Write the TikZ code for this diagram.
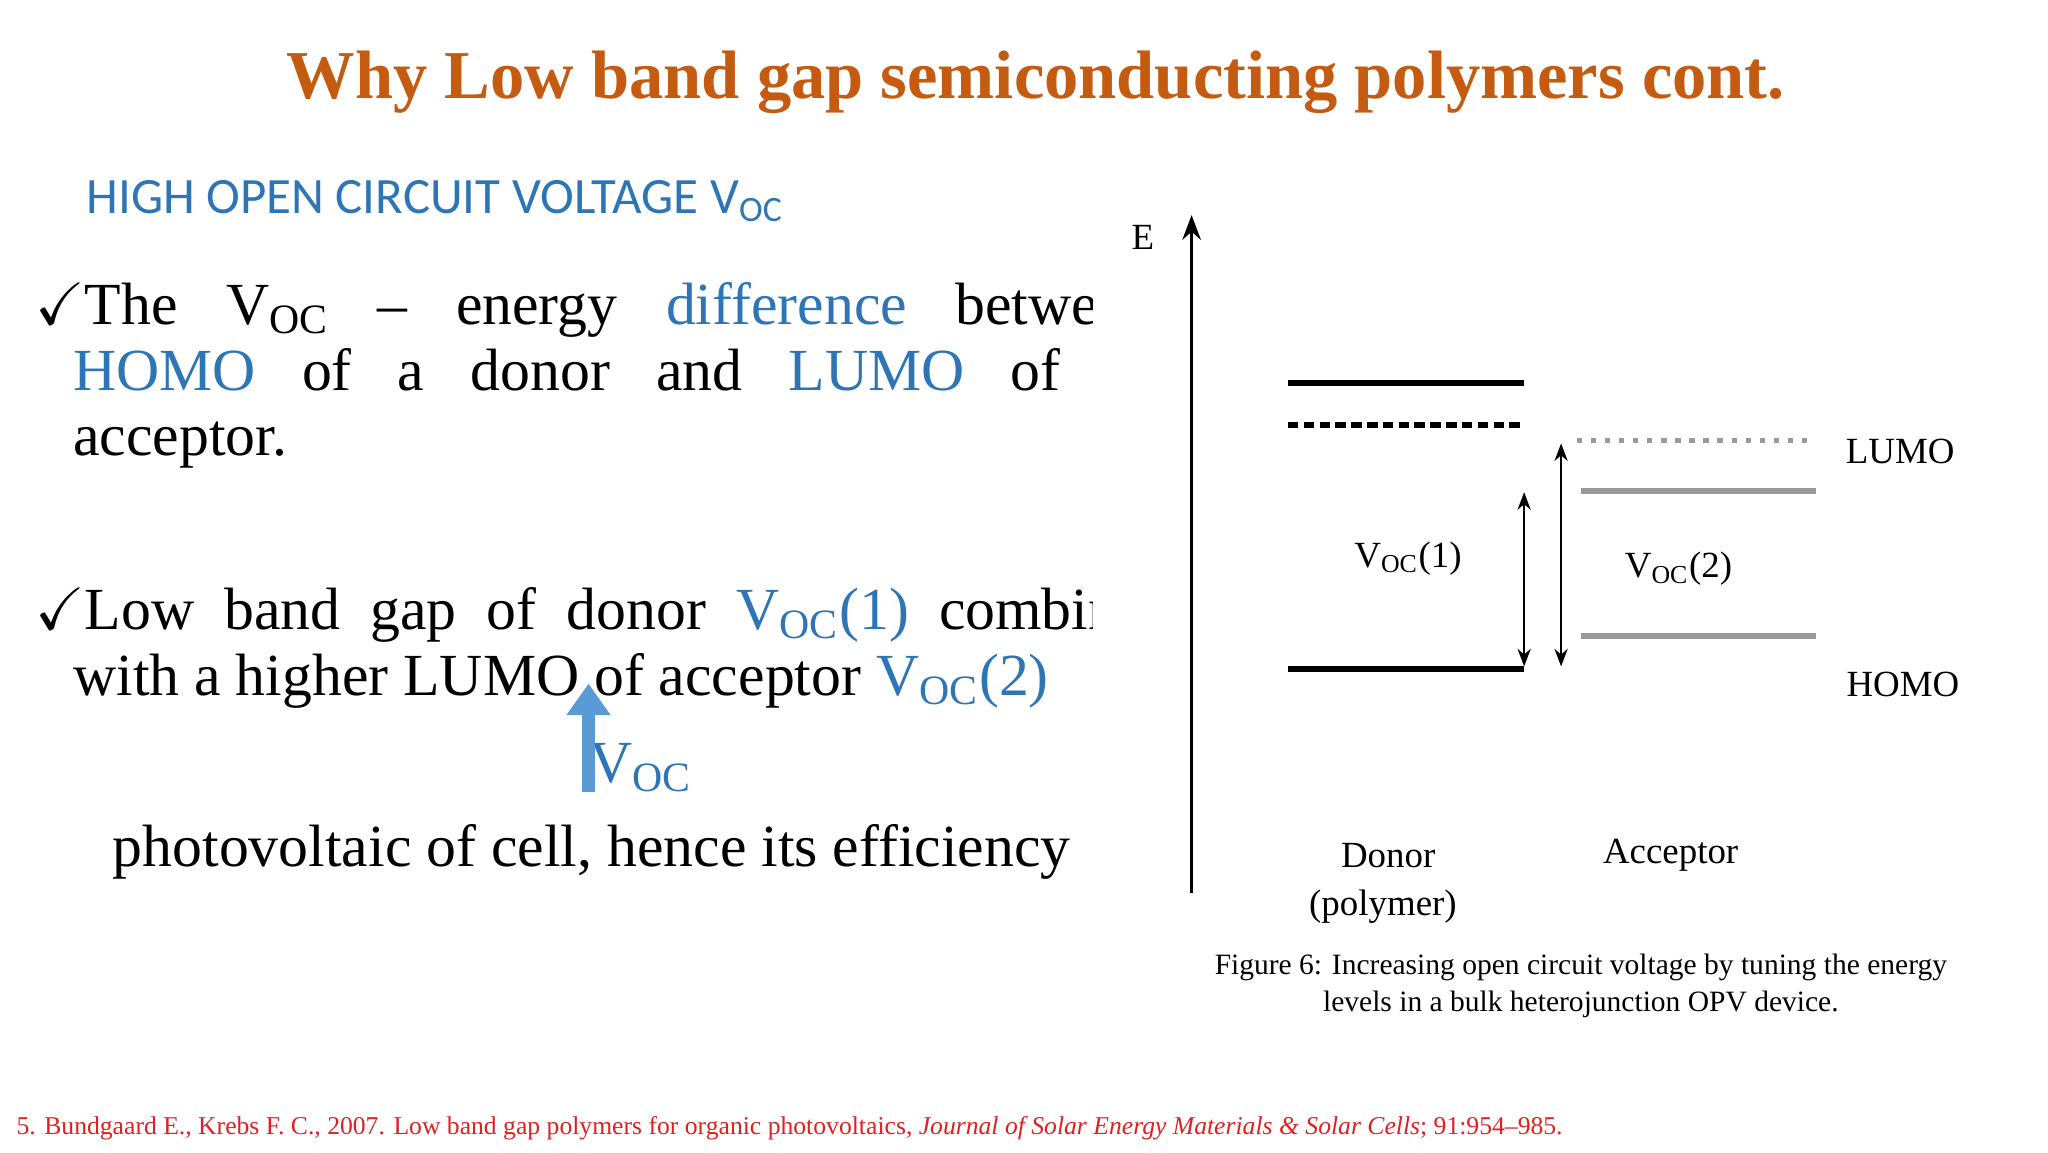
\documentclass[tikz,border=0pt]{standalone}
\usepackage{amssymb}
\usepackage{fontspec}
\setmainfont{Liberation Serif}
\newfontfamily\headfont{Carlito}
\usetikzlibrary{arrows.meta}
\definecolor{titlecol}{HTML}{C55A11}
\definecolor{bluecol}{HTML}{2E75B6}
\definecolor{arrowcol}{HTML}{5B9BD5}
\definecolor{refcol}{HTML}{E02020}
\newcommand{\vsub}[1]{V\textsubscript{#1}}
\newcommand{\bl}[1]{\textcolor{bluecol}{#1}}
\begin{document}
\begin{tikzpicture}[x=0.0132cm,y=-0.0132cm]

\tikzset{
    body/.style={anchor=base west,inner sep=0pt,font=\fontsize{17}{20}\selectfont},
    level/.style={line width=1.6pt},
    acclevel/.style={line width=1.6pt,draw=black!40},
    lbl/.style={inner sep=0pt,font=\fontsize{10.5}{12}\selectfont},
    dbl/.style={{Stealth[length=5pt]}-{Stealth[length=5pt]},line width=0.6pt}
}

\useasboundingbox (0,0) rectangle (1552,873);

\node(title) [font=\fontsize{19.5}{22}\selectfont\bfseries,text=titlecol] at (785,62) {Why Low band gap semiconducting polymers cont.};
\node(head) [anchor=base west,inner sep=0pt,font=\headfont\fontsize{14.5}{16}\selectfont,text=bluecol] at (65,162) {HIGH OPEN CIRCUIT VOLTAGE V\textsubscript{OC}};

% left text, cut at the right edge
\begin{scope}
\clip (0,190) rectangle (828,680);
\node(l1) [body] at (26,246) {$\checkmark$\makebox[10.7cm][s]{The\hfill\vsub{OC}\hfill --\hfill energy\hfill \bl{difference}\hfill between}};
\node(l2) [body] at (55,296) {\makebox[10.9cm][s]{\bl{HOMO}\hfill of\hfill a\hfill donor\hfill and\hfill \bl{LUMO}\hfill of\hfill an}};
\node(l3) [body] at (55,345) {acceptor.};
\node(l4) [body] at (26,477) {$\checkmark$\makebox[10.9cm][s]{Low\hfill band\hfill gap\hfill of\hfill donor\hfill \bl{\vsub{OC}(1)}\hfill combined}};
\node(l5) [body] at (55,527) {with a higher LUMO of acceptor \bl{\vsub{OC}(2)}};
\node(voc) [body] at (446,593) {\bl{\vsub{OC}}};
\node(l6) [body] at (85,657) {photovoltaic of cell, hence its efficiency};
\end{scope}
\coordinate (up0) at (446,600);
\coordinate (up1) at (446,518);
\draw[-{Triangle[length=9pt,width=12pt]},line width=3.5pt,arrowcol] (up0) -- (up1);

% energy diagram
\coordinate (e0) at (903,677);
\coordinate (e1) at (903,163);
\draw[-{Stealth[length=7pt]},line width=1pt] (e0) -- (e1);
\node(E) [lbl] at (866,180) {E};

\draw[level] (976,290) -- (1155,290);
\draw[level,dash pattern=on 3pt off 1.5pt] (976,322) -- (1155,322);
\draw[level] (976,507) -- (1155,507);
\draw[acclevel,line width=1.4pt,dash pattern=on 1.5pt off 2.5pt] (1195,334) -- (1370,334);
\draw[acclevel] (1198,372) -- (1376,372);
\draw[acclevel] (1198,482) -- (1376,482);

\coordinate (a1t) at (1155,373);
\coordinate (a1b) at (1155,505);
\coordinate (a2t) at (1183,336);
\coordinate (a2b) at (1183,505);
\draw[dbl] (a1b) -- (a1t);
\draw[dbl] (a2b) -- (a2t);

\node(v1) [lbl] at (1067,423) {V\textsubscript{OC}(1)};
\node(v2) [lbl] at (1272,431) {V\textsubscript{OC}(2)};
\node(lumo) [lbl] at (1440,342) {LUMO};
\node(homo) [lbl] at (1442,519) {HOMO};
\node(donor) [lbl] at (1052,648) {Donor};
\node(poly) [lbl] at (1048,687) {(polymer)};
\node(acc) [lbl] at (1266,648) {Acceptor};

\node(cap) [align=center,font=\fontsize{8.4}{10.6}\selectfont] at (1198,747) {Figure 6: Increasing open circuit voltage by tuning the energy\\levels in a bulk heterojunction OPV device.};

\node(ref) [anchor=base west,inner sep=0pt,text=refcol,font=\fontsize{7.3}{9}\selectfont] at (12,860) {5. Bundgaard E., Krebs F. C., 2007. Low band gap polymers for organic photovoltaics, \textit{Journal of Solar Energy Materials \& Solar Cells}; 91:954--985.};

\end{tikzpicture}
\end{document}
